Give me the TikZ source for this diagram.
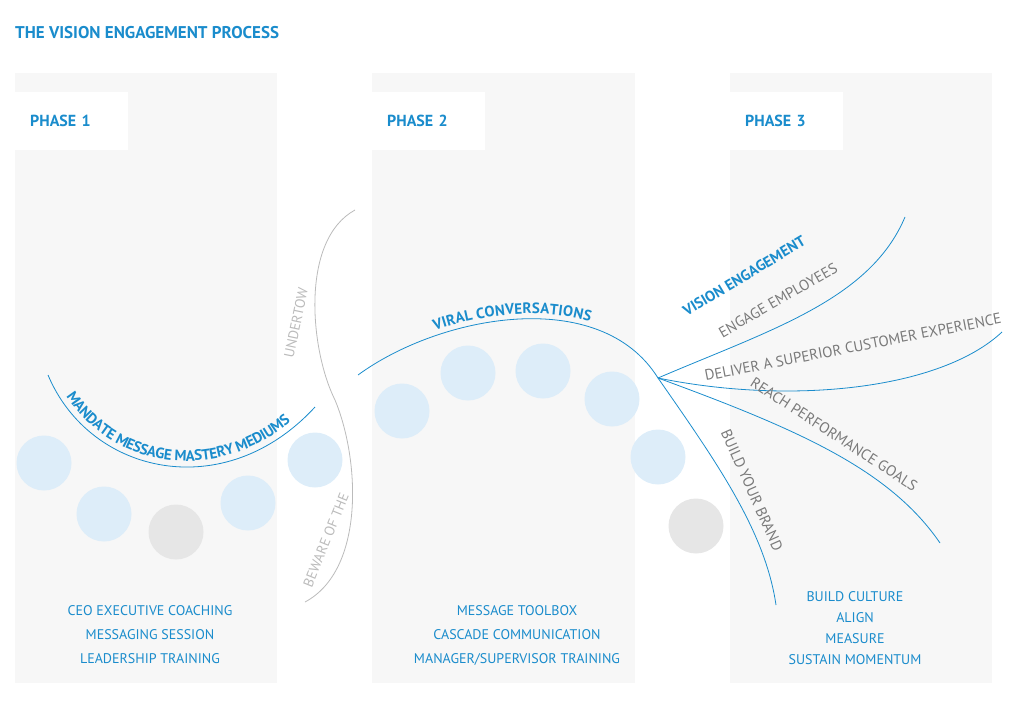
\documentclass[tikz,border=0pt]{standalone}
\usepackage{fontspec}
\setmainfont{PT Sans}
\usetikzlibrary{positioning, decorations.text}
\definecolor{visblue}{HTML}{1A8CCC}
\definecolor{panelgray}{HTML}{F7F7F7}
\definecolor{dotblue}{HTML}{DDEDF9}
\definecolor{dotgray}{HTML}{E6E6E6}
\definecolor{txtgray}{HTML}{7A7A7A}
\definecolor{tidegray}{HTML}{BBBBBB}
\begin{document}
\begin{tikzpicture}[x=1pt, y=1pt]
	\tikzset {panel/.style={fill=panelgray, draw=none}, phase/.style={fill=white, minimum width=113pt, minimum height=58pt, inner xsep=15pt, text=visblue, font=\bfseries\fontsize{16}{18}\selectfont, anchor=north west, align=left, text width=83pt},
		dot/.style={circle, fill=dotblue, minimum size=55pt, inner sep=0pt}, greydot/.style={dot, fill=dotgray},
		stream/.style={draw=visblue, thick}, branch/.style={text=txtgray, font=\fontsize{15}{17}\selectfont, inner sep=0pt},
		task/.style={text=visblue, font=\fontsize{14}{16}\selectfont, inner sep=0pt} }
	\useasboundingbox (0,-701) rectangle (1024,0);
	% panels
	\fill[panel] (15,-73) rectangle (277,-683);
	\fill[panel] (372,-73) rectangle (635,-683);
	\fill[panel] (730,-73) rectangle (992,-683);
	\node[anchor=west, text=visblue, font=\bfseries\fontsize{17}{19}\selectfont, inner sep=0pt] (title) at (15,-33) {THE VISION ENGAGEMENT PROCESS};
	\node[phase] (P1) at (15,-92) {PHASE 1};
	\node[phase] (P2) at (372,-92) {PHASE 2};
	\node[phase] (P3) at (730,-92) {PHASE 3};
	% circles
	\node[dot] (a1) at (44,-463) {};
	\node[dot] (a2) at (104,-514) {};
	\node[greydot] (a3) at (176,-532) {};
	\node[dot] (a4) at (248,-503) {};
	\node[dot] (a5) at (315,-460) {};
	\node[dot] (b1) at (402,-411) {};
	\node[dot] (b2) at (468,-373) {};
	\node[dot] (b3) at (543,-371) {};
	\node[dot] (b4) at (612,-399) {};
	\node[dot] (b5) at (658,-457) {};
	\node[greydot] (b6) at (696,-526) {};
	% undertow
	\draw[tidegray, thick] (355,-210) .. controls (300,-240) and (310,-350) .. (335,-400) .. controls (360,-460) and (365,-570) .. (305,-602);
	\node[text=tidegray, font=\fontsize{14}{16}\selectfont, rotate=78] (tow) at (296,-323) {UNDERTOW};
	\node[text=tidegray, font=\fontsize{14}{16}\selectfont, rotate=68] (bew) at (326,-540) {BEWARE OF THE};
	% streams
	\coordinate (J) at (658,-378);
	\draw[stream, postaction={decorate, decoration={text along path, text align=center, raise=6pt, text={|\bfseries\fontsize{15}{17}\selectfont\color{visblue}|MANDATE MESSAGE  MASTERY  MEDIUMS}}}] (48,-375) .. controls (90,-475) and (225,-505) .. (315,-407);
	\draw[stream, postaction={decorate, decoration={text along path, text align=center, raise=5pt, text={|\bfseries\fontsize{15}{17}\selectfont\color{visblue}|VIRAL CONVERSATIONS}}}] (358,-375) .. controls (440,-315) and (600,-285) .. (J);
	\draw[stream] (J) .. controls (715,-460) and (765,-530) .. (776,-605);
	\draw[stream] (J) .. controls (770,-330) and (870,-300) .. (905,-217);
	\draw[stream] (J) .. controls (790,-405) and (940,-390) .. (1002,-332);
	\draw[stream] (J) .. controls (800,-430) and (890,-470) .. (940,-543);
	\node[text=visblue, font=\bfseries\fontsize{15}{17}\selectfont, rotate=31, inner sep=0pt] (vis) at (744,-276) {VISION ENGAGEMENT};
	\node[branch, rotate=30] (emp) at (778,-300) {ENGAGE EMPLOYEES};
	\node[branch, rotate=11] (cust) at (853,-347) {DELIVER A SUPERIOR CUSTOMER EXPERIENCE};
	\node[branch, rotate=-33] (goal) at (834,-434) {REACH PERFORMANCE GOALS};
	\node[branch, rotate=-66] (brand) at (752,-490) {BUILD YOUR BRAND};
	% lists
	\node[task] (t11) at (150,-611) {CEO EXECUTIVE COACHING};
	\node[task, below=24pt of t11.center, anchor=center] (t12) {MESSAGING SESSION};
	\node[task, below=24pt of t12.center, anchor=center] (t13) {LEADERSHIP TRAINING};
	\node[task] (t21) at (517,-611) {MESSAGE TOOLBOX};
	\node[task, below=24pt of t21.center, anchor=center] (t22) {CASCADE COMMUNICATION};
	\node[task, below=24pt of t22.center, anchor=center] (t23) {MANAGER/SUPERVISOR  TRAINING};
	\node[task] (t31) at (855,-597) {BUILD CULTURE};
	\node[task, below=21pt of t31.center, anchor=center] (t32) {ALIGN};
	\node[task, below=21pt of t32.center, anchor=center] (t33) {MEASURE};
	\node[task, below=21pt of t33.center, anchor=center] (t34) {SUSTAIN MOMENTUM};
\end{tikzpicture}
\end{document}
